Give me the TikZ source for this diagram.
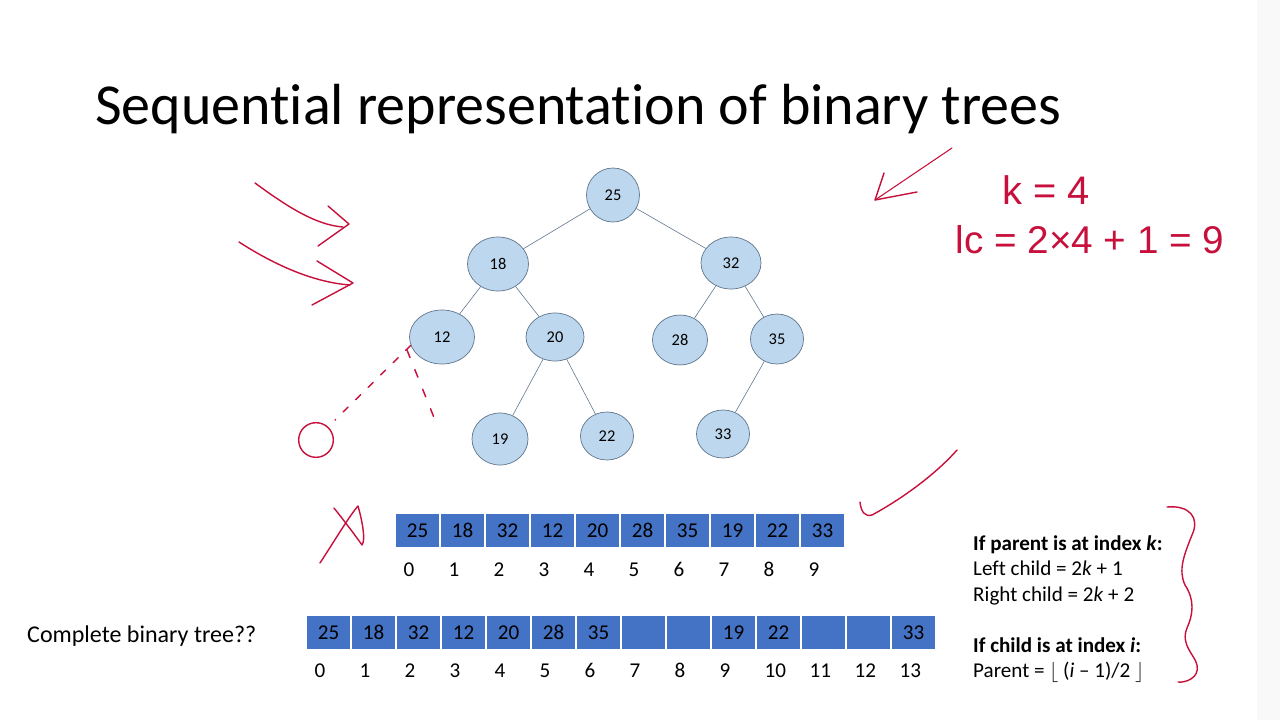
\documentclass[tikz,border=0pt]{standalone}
\usepackage{fontspec}
\setmainfont{Carlito}[Ligatures=NoCommon]
\newfontfamily\handfont{Liberation Sans}
\usepackage{tikz}
\usetikzlibrary{positioning, arrows.meta, shapes.geometric, calc}
\definecolor{cellblue}{RGB}{68,114,196}
\definecolor{nodeblue}{RGB}{189,215,238}
\definecolor{nodeedge}{RGB}{96,118,140}
\definecolor{handred}{RGB}{200,16,60}

\begin{document}
\begin{tikzpicture}[
  x=0.03cm, y=-0.03cm,
  tnode/.style={
    draw=nodeedge, fill=nodeblue, ellipse, inner sep=0pt,
    line width=0.6pt, font=\fontsize{14}{16}\selectfont
  },
  tedge/.style={draw=nodeedge, line width=0.5pt},
  cell/.style={
    draw=white, fill=cellblue, line width=1pt, inner sep=0pt,
    minimum width=1.35cm, minimum height=1.05cm,
    font=\fontsize{18}{20}\selectfont
  },
  idx/.style={anchor=west, inner sep=0pt, font=\fontsize{18}{20}\selectfont},
  pen/.style={handred, line width=1.2pt, line cap=round, line join=round},
]
\fill[white] (0,0) rectangle (1280,720);
\fill[gray!5] (1257,0) rectangle (1280,720);

% Title
\node[anchor=base west, inner sep=0pt, font=\fontsize{49.5}{54}\selectfont] (title)
  at (95,124) {Sequential representation of binary trees};

% Tree
\node[tnode, minimum width=1.59cm, minimum height=1.62cm] (n25) at (613,195) {25};
\node[tnode, minimum width=1.83cm, minimum height=1.62cm] (n18) at (498,264) {18};
\node[tnode, minimum width=1.80cm, minimum height=1.56cm] (n32) at (731,263) {32};
\node[tnode, minimum width=1.95cm, minimum height=1.62cm] (n12) at (442,337) {12};
\node[tnode, minimum width=1.74cm, minimum height=1.44cm] (n20) at (555,337) {20};
\node[tnode, minimum width=1.65cm, minimum height=1.50cm] (n28) at (680,340) {28};
\node[tnode, minimum width=1.59cm, minimum height=1.50cm] (n35) at (777,339) {35};
\node[tnode, minimum width=1.68cm, minimum height=1.56cm] (n19) at (500,439) {19};
\node[tnode, minimum width=1.59cm, minimum height=1.44cm] (n22) at (607,436) {22};
\node[tnode, minimum width=1.59cm, minimum height=1.44cm] (n33) at (723,434) {33};

\draw[tedge] (n25) -- (n18);
\draw[tedge] (n25) -- (n32);
\draw[tedge] (n18) -- (n12);
\draw[tedge] (n18) -- (n20);
\draw[tedge] (n32) -- (n28);
\draw[tedge] (n32) -- (n35);
\draw[tedge] (n20) -- (n19);
\draw[tedge] (n20) -- (n22);
\draw[tedge] (n35) -- (n33);

% Arrays
\foreach \v [count=\i from 0] in {25,18,32,12,20,28,35,19,22,33}
  \node[cell] (a\i) at ({417.5+45*\i},530.5) {\v};
\foreach \i in {0,...,9}
  \node[idx] (ai\i) at ($(a\i.south west)+(9,21)$) {\i};

\foreach \v [count=\i from 0] in {25,18,32,12,20,28,35,{},{},19,22,{},{},33}
  \node[cell] (b\i) at ({328.5+45*\i},632.5) {\v};
\foreach \i in {0,...,13}
  \node[idx] (bi\i) at ($(b\i.south west)+(9,20)$) {\i};

\node[anchor=west, inner sep=0pt, font=\fontsize{20.5}{22}\selectfont] (cbt)
  at (27,636) {Complete binary tree??};

% Index rules
\node[anchor=north west, align=left, inner sep=0pt,
  font=\fontsize{18}{21.8}\selectfont] (rules) at (973,535) {%
  \textbf{If parent is at index \textit{k}:}\\
  Left child = 2\textit{k} + 1\\
  Right child = 2\textit{k} + 2\\[21.8pt]
  \textbf{If child is at index \textit{i}:}\\
  Parent = $\lfloor$ (\textit{i} -- 1)/2 $\rfloor$};

% Handwritten notes
\node[text=handred, font=\handfont\fontsize{34}{36}\selectfont] (k4) at (1046,190) {k = 4};
\node[text=handred, font=\handfont\fontsize{33}{36}\selectfont] (lc) at (1090,240) {lc = 2×4 + 1 = 9};

\draw[pen] (255,183) .. controls (285,205) and (315,225) .. (343,227);
\draw[pen] (328,206) -- (349,224) -- (318,246);
\draw[pen] (239,242) .. controls (270,262) and (310,282) .. (350,285);
\draw[pen] (317,261) -- (353,283) -- (312,305);
\draw[pen, line width=0.9pt] (952,148) -- (875,200);
\draw[pen] (884,173) -- (875,200) -- (917,192);
\draw[pen] (860,502) .. controls (861,512) and (865,517) .. (872,515)
  .. controls (900,500) and (935,475) .. (957,450);
\draw[pen] (320,563) .. controls (335,540) and (350,515) .. (358,506)
  .. controls (362,520) and (366,540) .. (362,545)
  .. controls (355,535) and (342,518) .. (334,508);
\draw[pen] (1167,507) .. controls (1190,505) and (1200,518) .. (1192,535)
  .. controls (1184,555) and (1178,570) .. (1185,585)
  .. controls (1195,600) and (1193,615) .. (1187,628)
  .. controls (1180,645) and (1195,655) .. (1197,665)
  .. controls (1200,678) and (1185,683) .. (1178,682);
\draw[pen, dash pattern=on 6pt off 9pt] (n12.195) -- (335,420);
\draw[pen] (316,440) ellipse [x radius=0.52cm, y radius=0.52cm];
\draw[pen, dash pattern=on 7pt off 11pt] (407,350) -- (437,425);

\end{tikzpicture}
\end{document}
